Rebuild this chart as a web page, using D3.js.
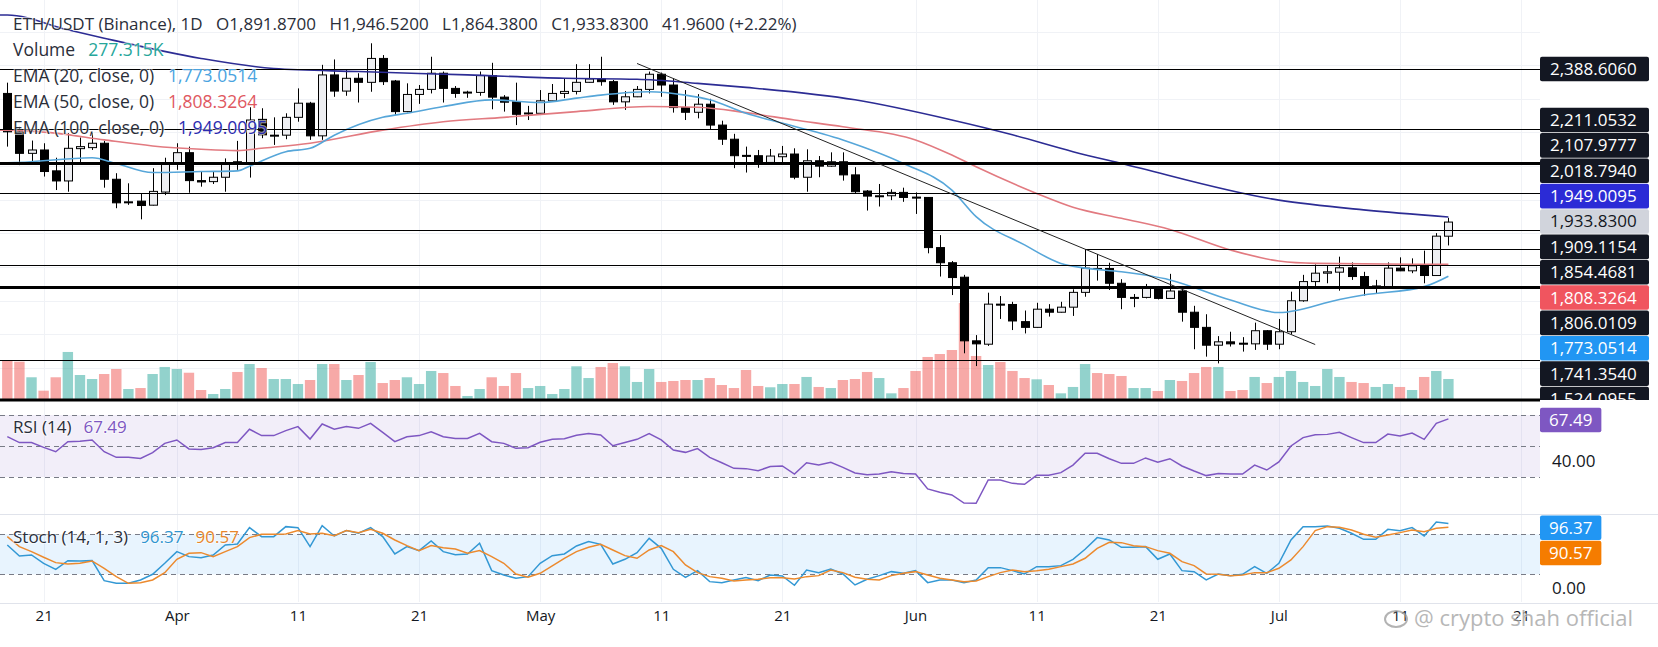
<!DOCTYPE html>
<html>
<head>
<meta charset="utf-8">
<script src="https://cdn.jsdelivr.net/npm/d3@7"></script>
<style>
  body { margin: 0; background: #fff; }
  svg { display: block; font-family: "Open Sans", sans-serif; }
</style>
</head>
<body>
<svg id="chart" width="1658" height="647"></svg>
<script>
// ---- data (ETH/USDT daily) ----
var firstDay = "2023-03-18";

var opens = [2316,2202,2138,2148,2086,2056,2152,2155,2168,2061, 1992,1996,1984,2023,2106,2140,2057,2054,2067,2113,
  2110,2239,2191,2192,2245,2287,2190,2371,2323,2361, 2349,2420,2353,2262,2313,2328,2376,2331,2318,2319,
  2369,2305,2291,2256,2257,2294,2316,2322,2349,2359, 2351,2291,2306,2328,2373,2341,2274,2260,2284,2222,
  2180,2132,2131,2111,2128,2136,2067,2116,2100,2113, 2074,2026,2010,2012,2022,2008,2007,1858,1813,1770,
  1581,1571,1690,1689,1638,1621,1675,1666,1681,1725, 1796,1796,1752,1709,1710,1737,1707,1729,1666,1621,
  1568,1578,1574,1572,1611,1571,1608,1700,1757,1782, 1785,1798,1772,1741,1742,1797,1789,1804,1775,1891.87];
var highs = [2348,2217,2176,2168,2125,2198,2185,2199,2175,2079, 2049,2019,2094,2125,2168,2158,2084,2084,2123,2175,
  2275,2272,2245,2257,2331,2291,2401,2417,2386,2376, 2465,2430,2356,2346,2341,2425,2381,2338,2324,2381,
  2407,2311,2348,2279,2326,2344,2361,2403,2403,2425, 2356,2323,2338,2381,2378,2361,2326,2314,2300,2235,
  2196,2158,2148,2151,2160,2153,2150,2130,2141,2141, 2097,2029,2047,2031,2036,2022,2008,1895,1818,1777,
  1598,1724,1714,1697,1671,1694,1690,1697,1734,1853, 1839,1813,1764,1720,1750,1742,1780,1737,1685,1660,
  1595,1608,1592,1635,1613,1646,1727,1777,1808,1806, 1831,1814,1786,1762,1814,1829,1826,1849,1901,1946.52];
var lows = [2158,2103,2113,2069,2029,2024,2108,2148,2036,1975, 1985,1942,1983,2014,2089,2021,2039,2047,2024,2089,
  2066,2183,2163,2180,2232,2178,2178,2306,2309,2289, 2321,2341,2252,2260,2285,2316,2289,2303,2303,2309,
  2269,2262,2222,2237,2256,2293,2302,2313,2348,2339, 2282,2267,2305,2316,2306,2259,2237,2242,2210,2163,
  2094,2081,2095,2108,2110,2061,2024,2067,2098,2057, 2019,1968,1980,1999,1994,1958,1841,1772,1717,1544,
  1506,1566,1646,1613,1603,1620,1653,1665,1655,1712, 1760,1732,1675,1681,1707,1704,1706,1638,1556,1534,
  1514,1564,1549,1554,1554,1556,1600,1697,1744,1752, 1730,1762,1715,1722,1740,1788,1782,1752,1774,1864.38];
var closes = [2202,2138,2148,2084,2056,2153,2158,2168,2061,1991, 1994,1983,2025,2108,2140,2057,2053,2067,2110,2108,
  2237,2193,2192,2245,2287,2190,2371,2323,2361,2349, 2420,2351,2262,2313,2328,2376,2331,2316,2320,2369,
  2305,2290,2254,2258,2294,2316,2322,2349,2359,2351, 2291,2306,2328,2373,2341,2274,2260,2284,2222,2180,
  2131,2130,2110,2130,2136,2067,2116,2100,2113,2074, 2024,2011,2012,2022,2007,2007,1858,1813,1769,1581,
  1572,1690,1688,1640,1621,1675,1666,1681,1725,1797, 1794,1752,1710,1710,1737,1707,1729,1666,1621,1568,
  1578,1572,1572,1611,1571,1608,1700,1757,1782,1786, 1798,1772,1740,1744,1797,1789,1804,1775,1892,1933.83];
// volume in thousands
var volumes = [519,506,300,123,300,634,330,277,343,409, 145,158,343,436,409,360,132,79,145,370,
  475,422,277,277,211,264,475,475,264,330, 502,224,264,300,211,383,356,185,53,145,
  300,185,356,158,185,79,145,445,290,436, 488,445,238,409,238,251,264,264,290,198,
  158,396,185,168,211,211,304,172,158,264, 277,370,290,88,158,383,568,607,660,1280,
  581,462,502,383,290,273,198,88,172,475, 356,343,317,158,158,119,264,251,356,436,
  436,119,132,304,224,304,383,238,185,409, 304,238,224,172,211,172,132,304,383,277.315];

// moving averages, sampled along the lines (candle index, value)
var ema20Idx = [0,7,9,12,16,19,20,23,25,27,31,33,36,40,44,47,49,53,56,58,61,63,69,74,78,80,84,87,89,92,96,101,105,110,112,117,119];
var ema20Val = [2110,2125,2108,2081,2084,2086,2100,2143,2153,2192,2245,2257,2277,2297,2289,2302,2311,2321,2311,2297,2257,2237,2178,2108,2029,1950,1866,1811,1797,1786,1762,1702,1665,1704,1717,1742,1773.0514];
var ema50Idx = [0,4,8,12,16,19,21,25,31,36,41,47,53,57,61,65,69,75,78,80,85,88,92,96,101,105,108,119];
var ema50Val = [2207,2198,2178,2160,2150,2146,2153,2168,2207,2232,2245,2262,2277,2275,2259,2237,2217,2178,2133,2098,2019,1978,1945,1912,1851,1818,1811,1808.3264];
var ema100Idx = [0,5,8,16,22,29,38,46,52,57,61,70,78,83,88,92,105,112,119];
var ema100Val = [2549,2505,2480,2420,2390,2381,2371,2361,2358,2346,2334,2297,2237,2193,2143,2108,1999,1970,1949.0095];

var rsi = [56.0,52.2,52.2,49.1,46.3,52.8,53.0,53.9,46.3,42.7, 42.7,42.0,45.7,51.7,53.9,48.1,47.8,48.9,52.2,52.2,
  60.8,56.7,56.7,59.9,62.5,54.5,64.2,60.8,62.5,61.4, 64.6,58.8,52.8,56.0,56.7,59.2,56.0,54.9,54.9,58.2,
  52.8,51.7,48.5,48.9,52.4,54.3,54.7,56.9,58.0,57.1, 50.2,52.2,54.3,58.0,53.9,47.4,45.9,48.3,42.7,39.2,
  35.6,35.4,34.1,36.7,37.1,31.9,39.2,37.7,39.5,36.2, 32.6,31.5,31.9,33.4,32.2,31.9,22.3,20.1,18.4,13.2,
  13.0,28.1,28.1,25.9,25.3,31.1,31.1,32.8,37.7,45.3, 45.3,41.8,38.8,38.8,42.3,39.5,41.8,37.1,33.9,30.9,
  32.2,31.9,31.9,37.7,34.5,39.7,50.0,55.4,57.3,57.5, 58.8,55.4,52.2,52.2,57.7,56.5,58.4,54.3,64.6,67.49];
var stochK = [64,47.5,49,36.5,27.5,40.5,40,40.5,10.5,6.5, 6.5,11.5,20,36.5,54,46.5,45,49,64,65.5,
  90,76.5,76.5,91.5,90,61.5,93,77.5,85.5,81.5, 90,76.5,50.5,61.5,55.5,70,54,49.5,50.5,66.5,
  25.5,19,14,16.5,36.5,48,50.5,62.5,69,65, 35.5,42.5,52.5,74,59,27.5,15.5,25.5,9,7.5,
  11.5,15,10.5,19,17.5,3.5,26.5,22.5,28,20.5, 4,12.5,18,24,21.5,25.5,7.5,11.5,11.5,7.5,
  11.5,30,30,25.5,20.5,31.5,31.5,33,42.5,57.5, 75,71.5,60.5,60.5,61.5,42.5,50.5,25.5,24,11.5,
  20.5,18,20,31.5,21.5,36.5,71.5,91.5,91.5,92.5, 89,81.5,72.5,72.5,87.5,85.5,90,77.5,98.5,96.37];
var stochD = [76.5,61.5,54,45.5,37.5,35.5,36.5,40,29,16.5, 6.5,7.5,11.5,22.5,42.5,51.5,52.5,46.5,54,61.5,
  75,80,80,80.5,85.5,80.5,81.5,78,85.5,82.5, 87.5,81.5,71.5,63,55.5,63,60,58,51.5,55.5,
  46.5,36.5,20.5,15.5,21.5,32.5,44,54,60.5,65, 56.5,48,44,56.5,63,54,34,22.5,16.5,14,
  10,11.5,12.5,15,15,13,16.5,18,26.5,22.5, 15.5,12.5,11.5,18,21.5,24,19,14,11.5,9,
  10,16.5,22.5,26.5,24,25.5,27.5,31.5,35.5,44, 59,68,67.5,63,61.5,55.5,51.5,39,33,20.5,
  20,18,19,22.5,22.5,29,41.5,61.5,85.5,91.5, 90.5,86.5,80,75.5,79,82.5,86.5,84,89,90.57];

// horizontal levels drawn on the chart, and where each one starts (candle index)
var levelPrices = [2388.6060, 2211.0532, 2107.9777, 2018.7940, 1909.1154, 1854.4681, 1806.0109, 1741.3540, 1524.0955];
var levelStart  = [0, 0, 0, 0, 0, 89, 0, 0, 0];
// trend line: [candle index, price]
var trendFrom = [52, 2405];
var trendTo = [108, 1570];

var tickDates  = ["2023-03-21","2023-04-01","2023-04-11","2023-04-21","2023-05-01","2023-05-11","2023-05-21",
                  "2023-06-01","2023-06-11","2023-06-21","2023-07-01","2023-07-11","2023-07-21"];
var tickLabels = ["21","Apr","11","21","May","11","21","Jun","11","21","Jul","11","21"];

// ---- setup ----
var W = 1658, H = 647;
var plotRight = 1540;
var mainTop = 0, mainBottom = 400;
var rsiTop = 402, rsiBottom = 514;
var stTop = 515, stBottom = 602;

var svg = d3.select("#chart");
svg.append("rect").attr("width", W).attr("height", H).attr("fill", "#fff");

var day0 = new Date(firstDay + "T00:00:00Z");
var dates = closes.map(function(d, i) { return d3.utcDay.offset(day0, i); });
function dateAt(i) { return d3.utcDay.offset(day0, i); }

var x = d3.scaleUtc().domain([dates[0], dates[dates.length - 1]]).range([7.3, 1448.4]);
var y = d3.scaleLinear().domain([1405.2, 2593.6]).range([mainBottom, mainTop]);
var yVol = d3.scaleLinear().domain([0, 1320]).range([mainBottom, 300]);
var yRsi = d3.scaleLinear().domain([30, 70]).range([477, 415]);
var ySt = d3.scaleLinear().domain([20, 80]).range([574.3, 534.3]);

var defs = svg.append("defs");
defs.append("clipPath").attr("id", "clipMain")
  .append("rect").attr("x", 0).attr("y", mainTop).attr("width", plotRight).attr("height", mainBottom - mainTop);
defs.append("clipPath").attr("id", "clipRsi")
  .append("rect").attr("x", 0).attr("y", rsiTop).attr("width", plotRight).attr("height", rsiBottom - rsiTop);
defs.append("clipPath").attr("id", "clipSt")
  .append("rect").attr("x", 0).attr("y", stTop).attr("width", plotRight).attr("height", stBottom - stTop);
defs.append("clipPath").attr("id", "clipAxis")
  .append("rect").attr("x", plotRight).attr("y", 0).attr("width", W - plotRight).attr("height", 400);

// grid
var grid = svg.append("g").attr("stroke", "#f0f2f6").attr("stroke-width", 1);
tickDates.forEach(function(t) {
  var gx = Math.round(x(new Date(t + "T00:00:00Z"))) + 0.5;
  grid.append("line").attr("x1", gx).attr("x2", gx).attr("y1", 0).attr("y2", stBottom);
});
d3.range(1500, 2600, 100).forEach(function(p) {
  var gy = Math.round(y(p)) + 0.5;
  grid.append("line").attr("x1", 0).attr("x2", plotRight).attr("y1", gy).attr("y2", gy);
});

// ---- main pane ----
var main = svg.append("g").attr("clip-path", "url(#clipMain)");

// volume
main.append("g").selectAll("rect").data(volumes).join("rect")
  .attr("x", function(d, i) { return x(dates[i]) - 5.2; })
  .attr("width", 10.4)
  .attr("y", function(d) { return yVol(d); })
  .attr("height", function(d) { return mainBottom - yVol(d); })
  .attr("fill", function(d, i) { return closes[i] >= opens[i] ? "rgba(38,166,154,0.5)" : "rgba(239,83,80,0.5)"; });

// candles
var candles = main.append("g");
closes.forEach(function(c, i) {
  var o = opens[i], cx = Math.round(x(dates[i])) + 0.5;
  var up = c >= o;
  candles.append("line").attr("x1", cx).attr("x2", cx)
    .attr("y1", y(highs[i])).attr("y2", y(lows[i]))
    .attr("stroke", "#000").attr("stroke-width", 1);
  var top = y(Math.max(o, c)), bot = y(Math.min(o, c));
  candles.append("rect").attr("x", cx - 4).attr("width", 8)
    .attr("y", top).attr("height", Math.max(1, bot - top))
    .attr("fill", up ? "#eeeff2" : "#000").attr("stroke", "#000").attr("stroke-width", 1);
});

// EMAs
function emaLine(idx, vals, color) {
  var pts = idx.map(function(d, k) { return [x(dateAt(d)), y(vals[k])]; });
  pts.unshift([0, pts[0][1]]);
  main.append("path").attr("d", d3.line().curve(d3.curveMonotoneX)(pts))
    .attr("fill", "none").attr("stroke", color).attr("stroke-width", 1.6);
}
emaLine(ema100Idx, ema100Val, "#2c2c94");
emaLine(ema50Idx, ema50Val, "#e27a80");
emaLine(ema20Idx, ema20Val, "#56a6d9");

// horizontal levels
var thick = [2107.9777, 1741.3540];
levelPrices.forEach(function(p, k) {
  var ly = Math.round(y(p)) + 0.5;
  var isThick = thick.indexOf(p) >= 0;
  main.append("line")
    .attr("x1", levelStart[k] ? x(dateAt(levelStart[k])) : 0).attr("x2", plotRight)
    .attr("y1", ly).attr("y2", ly)
    .attr("stroke", "#000").attr("stroke-width", isThick ? 3 : 1);
});
// trend line
main.append("line")
  .attr("x1", x(dateAt(trendFrom[0]))).attr("y1", y(trendFrom[1]))
  .attr("x2", x(dateAt(trendTo[0]))).attr("y2", y(trendTo[1]))
  .attr("stroke", "#222").attr("stroke-width", 1);
// pane bottom line
svg.append("line").attr("x1", 0).attr("x2", plotRight).attr("y1", 400).attr("y2", 400)
  .attr("stroke", "#000").attr("stroke-width", 3);

// ---- RSI pane ----
var rsiG = svg.append("g").attr("clip-path", "url(#clipRsi)");
rsiG.append("rect").attr("x", 0).attr("width", plotRight)
  .attr("y", yRsi(70)).attr("height", yRsi(30) - yRsi(70)).attr("fill", "rgba(126,87,194,0.1)");
[70, 50, 30].forEach(function(v) {
  rsiG.append("line").attr("x1", 0).attr("x2", plotRight)
    .attr("y1", Math.round(yRsi(v)) + 0.5).attr("y2", Math.round(yRsi(v)) + 0.5)
    .attr("stroke", "#787b86").attr("stroke-dasharray", "5,4");
});
rsiG.append("path").datum(rsi)
  .attr("d", d3.line().x(function(d, i) { return x(dates[i]); }).y(function(d) { return yRsi(d); }))
  .attr("fill", "none").attr("stroke", "#7e57c2").attr("stroke-width", 1.5);

svg.append("line").attr("x1", 0).attr("x2", W).attr("y1", 514.5).attr("y2", 514.5).attr("stroke", "#e0e3eb");

// ---- Stoch pane ----
var stG = svg.append("g").attr("clip-path", "url(#clipSt)");
stG.append("rect").attr("x", 0).attr("width", plotRight)
  .attr("y", ySt(80)).attr("height", ySt(20) - ySt(80)).attr("fill", "rgba(33,150,243,0.1)");
[80, 20].forEach(function(v) {
  stG.append("line").attr("x1", 0).attr("x2", plotRight)
    .attr("y1", Math.round(ySt(v)) + 0.5).attr("y2", Math.round(ySt(v)) + 0.5)
    .attr("stroke", "#787b86").attr("stroke-dasharray", "5,4");
});
stG.append("path").datum(stochK)
  .attr("d", d3.line().x(function(d, i) { return x(dates[i]); }).y(function(d) { return ySt(d); }))
  .attr("fill", "none").attr("stroke", "#3398d4").attr("stroke-width", 1.5);
stG.append("path").datum(stochD)
  .attr("d", d3.line().x(function(d, i) { return x(dates[i]); }).y(function(d) { return ySt(d); }))
  .attr("fill", "none").attr("stroke", "#ec8a2e").attr("stroke-width", 1.5);

svg.append("line").attr("x1", 0).attr("x2", W).attr("y1", 603.5).attr("y2", 603.5).attr("stroke", "#e0e3eb");

// ---- time axis ----
var xAxis = d3.axisBottom(x)
  .tickValues(tickDates.map(function(t) { return new Date(t + "T00:00:00Z"); }))
  .tickFormat(function(d, i) { return tickLabels[i]; })
  .tickSize(0).tickPadding(0);
var ax = svg.append("g").attr("transform", "translate(0,610)").call(xAxis);
ax.select(".domain").remove();
ax.selectAll("text").attr("font-size", 15).attr("fill", "#131722")
  .attr("font-family", "Open Sans, sans-serif").attr("dy", "0.71em");

// ---- price scale labels ----
var priceLabels = levelPrices.map(function(p) { return { v: p, bg: "#131722", fg: "#fff" }; });
priceLabels.push({ v: ema100Val[ema100Val.length - 1], bg: "#2b2bd6", fg: "#fff" });
priceLabels.push({ v: closes[closes.length - 1], bg: "#d1d4dc", fg: "#131722" });
priceLabels.push({ v: ema50Val[ema50Val.length - 1], bg: "#f0555f", fg: "#fff" });
priceLabels.push({ v: ema20Val[ema20Val.length - 1], bg: "#2196f3", fg: "#fff" });
priceLabels.sort(function(a, b) { return b.v - a.v; });

// push overlapping labels down, then pull the stack back up from the pane bottom
var lh = 25.36;
priceLabels.forEach(function(l, k) {
  l.y = y(l.v);
  if (k > 0) l.y = Math.max(l.y, priceLabels[k - 1].y + lh);
});
var lastL = priceLabels[priceLabels.length - 1];
lastL.y = Math.min(lastL.y, 399);
for (var k = priceLabels.length - 2; k >= 0; k--) {
  priceLabels[k].y = Math.min(priceLabels[k].y, priceLabels[k + 1].y - lh);
}

var pl = svg.append("g").attr("clip-path", "url(#clipAxis)");
priceLabels.forEach(function(l) {
  pl.append("rect").attr("x", plotRight).attr("y", l.y - 12.3).attr("width", 109).attr("height", 24.6)
    .attr("rx", 2).attr("fill", l.bg);
  pl.append("text").attr("x", plotRight + 10).attr("y", l.y).attr("dy", "0.35em")
    .attr("font-size", 17).attr("fill", l.fg).text(d3.format(",.4f")(l.v));
});

function valueBox(v, cy, bg) {
  var t = svg.append("text").attr("x", plotRight + 9).attr("y", cy).attr("dy", "0.35em")
    .attr("font-size", 17).attr("fill", "#fff").text(d3.format(".2f")(v));
  var w = t.node().getComputedTextLength();
  svg.insert("rect", function() { return t.node(); })
    .attr("x", plotRight).attr("y", cy - 12.3).attr("width", w + 18).attr("height", 24.6)
    .attr("rx", 2).attr("fill", bg);
}
valueBox(rsi[rsi.length - 1], Math.max(yRsi(rsi[rsi.length - 1]), rsiTop + 18), "#7e57c2");
var kY = Math.max(ySt(stochK[stochK.length - 1]), stTop + 12.7);
valueBox(stochK[stochK.length - 1], kY, "#2196f3");
valueBox(stochD[stochD.length - 1], Math.max(ySt(stochD[stochD.length - 1]), kY + lh), "#f57c00");
svg.append("text").attr("x", plotRight + 12).attr("y", yRsi(40)).attr("dy", "0.35em")
  .attr("font-size", 17).attr("fill", "#131722").text("40.00");
svg.append("text").attr("x", plotRight + 12).attr("y", ySt(0)).attr("dy", "0.35em")
  .attr("font-size", 17).attr("fill", "#131722").text("0.00");

// ---- legends ----
function legend(yy, size, gap, parts) {
  var cx = 13;
  parts.forEach(function(p) {
    var t = svg.append("text").attr("x", cx).attr("y", yy).attr("dy", "0.35em")
      .attr("font-size", size).attr("fill", p[1]).text(p[0]);
    t.attr("paint-order", "stroke").attr("stroke", "rgba(255,255,255,0.6)").attr("stroke-width", 2);
    cx += t.node().getComputedTextLength() + gap;
  });
}
var fmt4 = d3.format(",.4f");
var n = closes.length - 1;
legend(24, 17, 13.5, [["ETH/USDT (Binance), 1D", "#2a2e39"],
  ["O" + fmt4(opens[n]), "#2a2e39"], ["H" + fmt4(highs[n]), "#2a2e39"],
  ["L" + fmt4(lows[n]), "#2a2e39"], ["C" + fmt4(closes[n]), "#2a2e39"],
  ["41.9600 (+2.22%)", "#2a2e39"]]);
legend(50, 17.5, 13, [["Volume", "#2a2e39"], [d3.format(".6~r")(volumes[n]) + "K", "#26a69a"]]);
legend(76, 17.5, 14, [["EMA (20, close, 0)", "#2a2e39"], [fmt4(ema20Val[ema20Val.length - 1]), "#4aa3df"]]);
legend(102, 17.5, 14, [["EMA (50, close, 0)", "#2a2e39"], [fmt4(ema50Val[ema50Val.length - 1]), "#e0585f"]]);
legend(128, 17.5, 14, [["EMA (100, close, 0)", "#2a2e39"], [fmt4(ema100Val[ema100Val.length - 1]), "#2b2bb0"]]);
legend(427, 17, 12, [["RSI (14)", "#2a2e39"], [d3.format(".2f")(rsi[n]), "#7e57c2"]]);
legend(537, 17, 12, [["Stoch (14, 1, 3)", "#2a2e39"], [d3.format(".2f")(stochK[n]), "#2f95d0"], [d3.format(".2f")(stochD[n]), "#e8862a"]]);

// ---- watermark ----
var wm = svg.append("g").attr("opacity", 0.75);
wm.append("ellipse").attr("cx", 1396).attr("cy", 619).attr("rx", 11).attr("ry", 8)
  .attr("fill", "none").attr("stroke", "#9a9a9a").attr("stroke-width", 2);
wm.append("text").attr("x", 1414).attr("y", 618).attr("dy", "0.35em").attr("font-size", 22)
  .attr("fill", "#a0a0a0").attr("stroke", "#fff").attr("stroke-width", 1).attr("paint-order", "stroke")
  .text("@ crypto shah official");
</script>
</body>
</html>
